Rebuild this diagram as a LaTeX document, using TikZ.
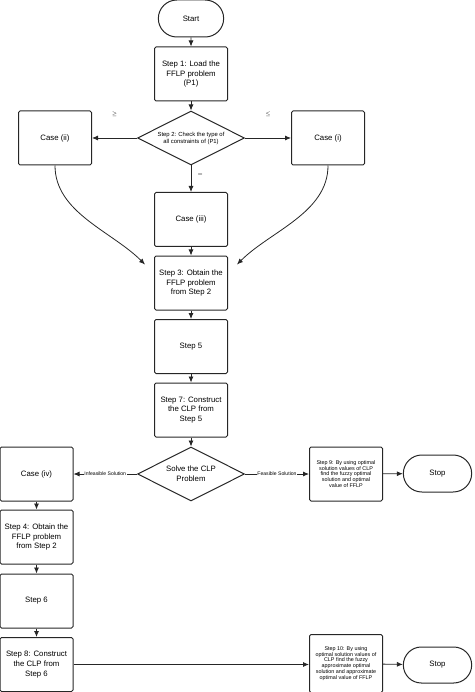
\documentclass[tikz,border=0pt]{standalone}
\usepackage{fontspec}
\setmainfont{Liberation Sans}
\usepackage{tikz}
\usetikzlibrary{arrows.meta, positioning, shapes.geometric, shapes.misc}

\begin{document}
\begin{tikzpicture}[x=1pt, y=-1pt,
  box/.style={draw=black!85, line width=1pt, rounded corners=1.5pt, minimum width=73pt, minimum height=54pt, align=center, inner sep=1pt, font=\fontsize{7.8}{9.6}\selectfont},
  smallbox/.style={box, font=\fontsize{5.4}{5.9}\selectfont},
  decision/.style={draw=black!85, line width=1pt, diamond, aspect=2, minimum width=107pt, minimum height=54pt, inner sep=0pt, align=center},
  terminal/.style={draw=black!85, line width=1pt, rounded rectangle, minimum width=73pt, minimum height=37pt, font=\fontsize{7.8}{9.6}\selectfont},
  arr/.style={-{Latex[length=6pt, width=5pt]}, line width=0.8pt, draw=black!85},
  lbl/.style={font=\fontsize{5.1}{6}\selectfont, fill=white, inner sep=0.6pt}]
  \useasboundingbox (0,0) rectangle (474,692);

  % Main column
  \node[terminal, minimum width=72pt] (start) at (191,18.5) {Start};
  \node[box] (step1) at (191,74) {Step 1: Load the\\FFLP problem\\(P1)};
  \node[decision, font=\fontsize{5.9}{7}\selectfont] (check) at (191,138) {Step 2: Check the type of\\all constraints of (P1)};
  \node[box] (caseii) at (55,138) {Case (ii)};
  \node[box] (casei) at (328,138) {Case (i)};
  \node[box] (caseiii) at (191,219.5) {Case (iii)};
  \node[box] (step3) at (191,283) {Step 3: Obtain the\\FFLP problem\\from Step 2};
  \node[box] (step5) at (191,346.5) {Step 5};
  \node[box] (step7) at (191,410) {Step 7: Construct\\the CLP from\\Step 5};
  \node[decision, font=\fontsize{7.8}{9.6}\selectfont] (solve) at (191,474) {Solve the CLP\\Problem};

  % Feasible branch
  \node[smallbox] (step9) at (346,474) {Step 9: By using optimal\\solution values of CLP\\find the fuzzy optimal\\solution and optimal\\value of FFLP};
  \node[terminal, minimum width=75pt] (stopa) at (437.5,473.5) {Stop};

  % Infeasible branch
  \node[box] (caseiv) at (36.5,474) {Case (iv)};
  \node[box] (step4) at (36.5,537) {Step 4: Obtain the\\FFLP problem\\from Step 2};
  \node[box] (step6) at (36.5,601) {Step 6};
  \node[box] (step8) at (36.5,664.5) {Step 8: Construct\\the CLP from\\Step 6};
  \node[smallbox, minimum height=58pt] (step10) at (346,663.5) {Step 10: By using\\optimal solution values of\\CLP find the fuzzy\\approximate optimal\\solution and approximate\\optimal value of FFLP};
  \node[terminal, minimum width=75pt, minimum height=36pt] (stopb) at (437.5,665) {Stop};

  % Connectors
  \draw[arr] (start) -- (step1);
  \draw[arr] (step1) -- (check);
  \draw[arr] (check.west) -- node[midway, yshift=24pt, font=\tiny] {$\geq$} (caseii.east);
  \draw[arr] (check.east) -- node[midway, yshift=24pt, font=\tiny] {$\leq$} (casei.west);
  \draw[arr] (check.south) -- node[right=3pt, pos=0.35, font=\tiny] {$=$} (caseiii.north);
  \draw[arr] (caseiii) -- (step3);
  \draw[arr] (caseii.south) to[out=-90, in=135, looseness=0.9] ([xshift=-9pt, yshift=-9pt]step3.north west);
  \draw[arr] (casei.south) to[out=-90, in=45, looseness=0.9] ([xshift=9pt, yshift=-9pt]step3.north east);
  \draw[arr] (step3) -- (step5);
  \draw[arr] (step5) -- (step7);
  \draw[arr] (step7) -- (solve);
  \draw[arr] (solve.west) -- node[lbl] {Infeasible Solution} (caseiv.east);
  \draw[arr] (solve.east) -- node[lbl] {Feasible Solution} (step9.west);
  \draw[arr] (step9) -- (stopa);
  \draw[arr] (caseiv) -- (step4);
  \draw[arr] (step4) -- (step6);
  \draw[arr] (step6) -- (step8);
  \draw[arr] (step8.east) -- (step8.east -| step10.west);
  \draw[arr] (step10) -- (stopb);
\end{tikzpicture}
\end{document}
